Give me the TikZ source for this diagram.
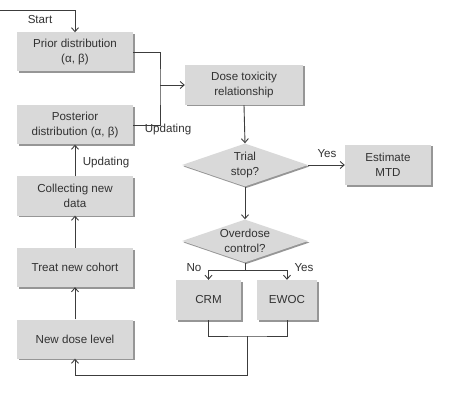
\documentclass[tikz,border=0pt]{standalone}
\usepackage{fontspec}
\setmainfont{Liberation Sans}
\usetikzlibrary{shapes.geometric,shadows,arrows.meta}
\definecolor{boxgray}{RGB}{217,217,217}
\definecolor{shgray}{RGB}{150,150,150}
\definecolor{txt}{RGB}{50,50,50}
\definecolor{ln}{RGB}{60,60,60}
\begin{document}
\begin{tikzpicture}[x=1pt,y=-1pt,
  base/.style={draw=none, fill=boxgray, align=center, text=txt, inner sep=1pt,
    font=\fontsize{11.6}{15.5}\selectfont,
    drop shadow={shadow xshift=1.5pt, shadow yshift=-1.5pt, fill=shgray, opacity=1}},
  box/.style={base, rectangle, minimum width=116pt, minimum height=39pt},
  dia/.style={base, diamond, aspect=2.9, minimum width=126pt, minimum height=43pt, inner sep=0pt},
  lbl/.style={text=txt, font=\fontsize{11.6}{14}\selectfont, inner sep=0pt},
  conn/.style={draw=ln, line width=0.9pt},
  arr/.style={conn, -{Straight Barb[length=4pt,width=7pt]}}]
\useasboundingbox (0,0) rectangle (474,401);
\fill[white] (0,0) rectangle (474,401);
% left column
\node[box] (prior) at (75,52) {Prior distribution\\(α, β)};
\node[box] (post) at (75,125) {Posterior\\distribution (α, β)};
\node[box] (collect) at (75,196) {Collecting new\\data};
\node[box] (treat) at (75,267.5) {Treat new cohort};
\node[box] (newdose) at (75,339) {New dose level};
% right column
\node[box, minimum width=118pt, minimum height=40pt] (dose) at (244,85) {Dose toxicity\\relationship};
\node[dia] (trial) at (245,165) {Trial\\stop?};
\node[box, minimum width=86pt, minimum height=40pt] (mtd) at (388,165) {Estimate\\MTD};
\node[dia] (over) at (245,241) {Overdose\\control?};
\node[box, minimum width=65pt, minimum height=40pt] (crm) at (208.5,300) {CRM};
\node[box, minimum width=60pt, minimum height=40pt] (ewoc) at (287,300) {EWOC};
% labels
\node[lbl] (lstart) at (40,20) {Start};
\node[lbl] (lupd1) at (168,130) {Updating};
\node[lbl] (lupd2) at (106,163) {Updating};
\node[lbl] (lyes1) at (327,154) {Yes};
\node[lbl] (lno) at (194,268) {No};
\node[lbl] (lyes2) at (304,268) {Yes};
% coordinates
\coordinate (s) at (0,10);
\coordinate (jn) at (160,85);
\coordinate (sp) at (245,270);
\coordinate (bt) at (247,336);
\coordinate (bb) at (247,375);
% connectors
\draw[arr] (s) -| (prior.north);
\draw[conn] (prior.east) -| (jn) |- (post.east);
\draw[arr] (jn) -- (dose.west);
\draw[arr] (dose.south) -- (trial.north);
\draw[arr] (trial.east) -- (mtd.west);
\draw[arr] (trial.south) -- (over.north);
\draw[conn] (over.south) -- (sp);
\draw[arr] (sp) -| (crm.north);
\draw[arr] (sp) -| (ewoc.north);
\draw[conn] (crm.south) |- (bt) -| (ewoc.south);
\draw[arr] (bt) -- (bb) -| (newdose.south);
\draw[arr] (newdose.north) -- (treat.south);
\draw[arr] (treat.north) -- (collect.south);
\draw[arr] (collect.north) -- (post.south);
\end{tikzpicture}
\end{document}
